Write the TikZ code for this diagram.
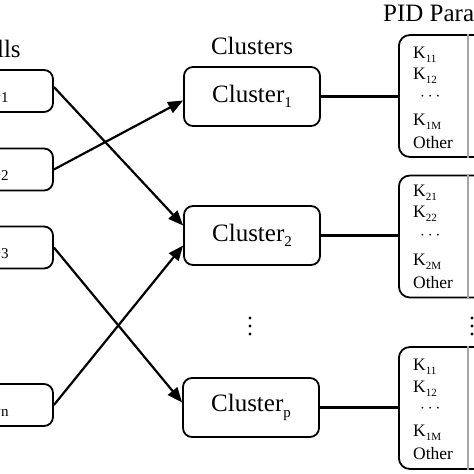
\documentclass[tikz,border=0pt]{standalone}
\usepackage{fontspec}
\setmainfont{Liberation Serif}
\usetikzlibrary{arrows.meta}
\newcommand{\mysub}[1]{\raisebox{-0.22em}{\fontsize{15}{15}\selectfont #1}}
\newcommand{\ksub}[1]{\raisebox{-0.22em}{\fontsize{11}{11}\selectfont #1}}
\tikzset{
  box/.style={draw, line width=1.8pt, rounded corners=9pt, minimum width=136pt, inner sep=0pt, font=\fontsize{25}{30}\selectfont},
  cellbox/.style={box, minimum width=138pt, minimum height=42pt},
  clbox/.style={box, minimum height=59pt},
  pidbox/.style={draw, line width=1.8pt, rounded corners=11pt, minimum width=170pt, minimum height=122pt, inner sep=0pt},
  hdr/.style={anchor=base, font=\fontsize{25}{30}\selectfont, inner sep=0pt},
  ktxt/.style={anchor=west, font=\fontsize{17.5}{20}\selectfont, inner sep=0pt},
  arr/.style={line width=2.2pt, -{Triangle[length=15pt,width=12pt]}},
  link/.style={line width=2.2pt},
  sep/.style={draw=gray!70, line width=1.4pt},
}
\begin{document}
\begin{tikzpicture}[x=1pt,y=-1pt]
\useasboundingbox (0,0) rectangle (474,474);
\clip (0,0) rectangle (474,474);
\fill[white] (0,0) rectangle (474,474);
% headers
\node[hdr] (hcells) at (-5,57) {Cells};
\node[hdr] (hclus) at (252,54) {Clusters};
\node[hdr, anchor=base west] (hpid) at (383,21) {PID Parameters};
% cells
\node[cellbox] (cell1) at (-16,91) {Cell\mysub{1}};
\node[cellbox] (cell2) at (-16,169.5) {Cell\mysub{2}};
\node[cellbox] (cell3) at (-16,247.5) {Cell\mysub{3}};
\node[cellbox] (celln) at (-16,405) {Cell\mysub{n}};
% clusters
\node[clbox] (cl1) at (252,96.5) {Cluster\mysub{1}};
\node[clbox] (cl2) at (252,235.5) {Cluster\mysub{2}};
\node[clbox] (clp) at (251,407.5) {Cluster\mysub{p}};
% PID boxes
\node[pidbox, anchor=west] (p1) at (398,96) {};
\node[pidbox, anchor=west] (p2) at (398,236.5) {};
\node[pidbox, anchor=west] (p3) at (398,408) {};
\foreach \b in {p1,p2,p3}{
  \draw[sep] ([xshift=70pt]\b.north west) -- ([xshift=70pt]\b.south west);
}
% PID texts
\node[ktxt] (k11a) at (413,55) {K\ksub{11}};
\node[ktxt] (k12a) at (413,76) {K\ksub{12}};
\node[ktxt] (dta) at (420,97) {$\cdots$};
\node[ktxt] (k1ma) at (413,122) {K\ksub{1M}};
\node[ktxt] (oa) at (413,143) {Other};
\node[ktxt] (k21) at (413,193) {K\ksub{21}};
\node[ktxt] (k22) at (413,214) {K\ksub{22}};
\node[ktxt] (dtb) at (420,236) {$\cdots$};
\node[ktxt] (k2m) at (413,262) {K\ksub{2M}};
\node[ktxt] (ob) at (413,283) {Other};
\node[ktxt] (k11c) at (413,367) {K\ksub{11}};
\node[ktxt] (k12c) at (413,389) {K\ksub{12}};
\node[ktxt] (dtc) at (420,409) {$\cdots$};
\node[ktxt] (k1mc) at (413,433) {K\ksub{1M}};
\node[ktxt] (oc) at (413,454) {Other};
% vertical dots
\foreach \yy in {318,326,334}{
  \fill (250,\yy) circle (1.7);
  \fill (472,\yy) circle (1.7);
}
% arrows
\draw[arr] ([yshift=4pt]cell1.east) -- ([yshift=10pt]cl2.west);
\draw[arr] (cell2.east) -- ([yshift=-4pt]cl1.west);
\draw[arr] (cell3.east) -- ([yshift=5pt]clp.west);
\draw[arr] (celln.east) -- ([yshift=-10pt]cl2.west);
% links
\draw[link] (cl1.east) -- (cl1.east -| p1.west);
\draw[link] (cl2.east) -- (cl2.east -| p2.west);
\draw[link] (clp.east) -- (clp.east -| p3.west);
\end{tikzpicture}
\end{document}
